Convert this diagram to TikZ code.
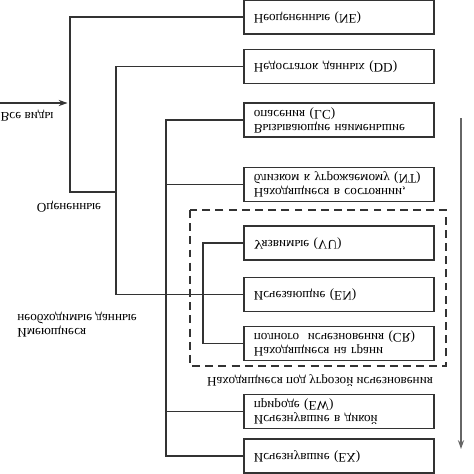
\documentclass[tikz,border=0pt]{standalone}
\usepackage{fontspec}
\setmainfont{Liberation Serif}
\usetikzlibrary{arrows.meta}
\newcommand{\flipt}[1]{\scalebox{1}[-1]{\begin{tabular}{@{}l@{}}#1\end{tabular}}}
\tikzset{
  box/.style={draw=black!80, line width=0.9pt, anchor=west, text width=3.4cm,
    align=left, inner xsep=0.2cm, minimum height=0.68cm, inner ysep=0pt},
  link/.style={draw=black!80, line width=0.8pt},
  lbl/.style={inner sep=0pt}
}
\begin{document}
\begin{tikzpicture}[x=0.02cm, y=-0.02cm, font=\fontsize{7.5}{8}\selectfont]
    \useasboundingbox (0,0) rectangle (474,474);

    % 枠(カテゴリ)
    \node[box] (ne) at (243,17) {\flipt{Неоцененные (NE)}};
    \node[box] (dd) at (243,66.5) {\flipt{Недостаток данных (DD)}};
    \node[box] (lc) at (243,120) {\flipt{Вызывающие наименьшие\\опасения (LC)}};
    \node[box] (nt) at (243,184.5) {\flipt{Находящиеся в состоянии,\\близком к угрожаемому (NT)}};
    \node[box] (vu) at (243,243) {\flipt{Уязвимые (VU)}};
    \node[box] (en) at (243,294.5) {\flipt{Исчезающие (EN)}};
    \node[box] (cr) at (243,343.5) {\flipt{Находящиеся на грани\\полного \ исчезновения (CR)}};
    \node[box] (ew) at (243,411.5) {\flipt{Исчезнувшие в дикой\\природе (EW)}};
    \node[box] (ex) at (243,456) {\flipt{Исчезнувшие (EX)}};

    % 絶滅危惧の枠
    \draw[black!80, line width=1.1pt, dash pattern=on 4.5pt off 3pt] (190,210) rectangle (446,366);
    \node[lbl] (thr) at (320,380) {\flipt{Находящиеся под угрозой исчезновения}};

    % 木の縦線
    \coordinate (a) at (70,0);
    \coordinate (b) at (116,0);
    \coordinate (c) at (166,0);
    \coordinate (d) at (203,0);
    \coordinate (eval) at (116,192);

    \draw[link] (ne.west) -| (a |- eval) -- (eval);
    \draw[link] (dd.west) -| (b |- en.west) -- (en.west);
    \draw[link] (lc.west) -| (c |- ex.west) -- (ex.west);
    \draw[link] (nt.west) -- (c |- nt.west);
    \draw[link] (ew.west) -- (c |- ew.west);
    \draw[link] (vu.west) -| (d |- cr.west) -- (cr.west);

    % 入力の矢印
    \coordinate (all) at (0,103);
    \draw[link, -{Stealth[length=5pt, width=3.5pt]}] (all) -- ([xshift=-0.05cm]a |- all);
    \node[lbl] (alltxt) at (27,115) {\flipt{Все виды}};

    % ラベル
    \node[lbl] (evtxt) at (69,206) {\flipt{Оцененные}};
    \node[lbl, anchor=west] (adtxt) at (17,324) {\flipt{Имеющиеся\\необходимые данные}};

    % 右側の矢印
    \coordinate (rtop) at (461,118);
    \coordinate (rbot) at (461,449);
    \draw[black!60, line width=0.8pt, -{Stealth[length=5pt, width=3.5pt]}] (rtop) -- (rbot);
  \end{tikzpicture}
\end{document}
